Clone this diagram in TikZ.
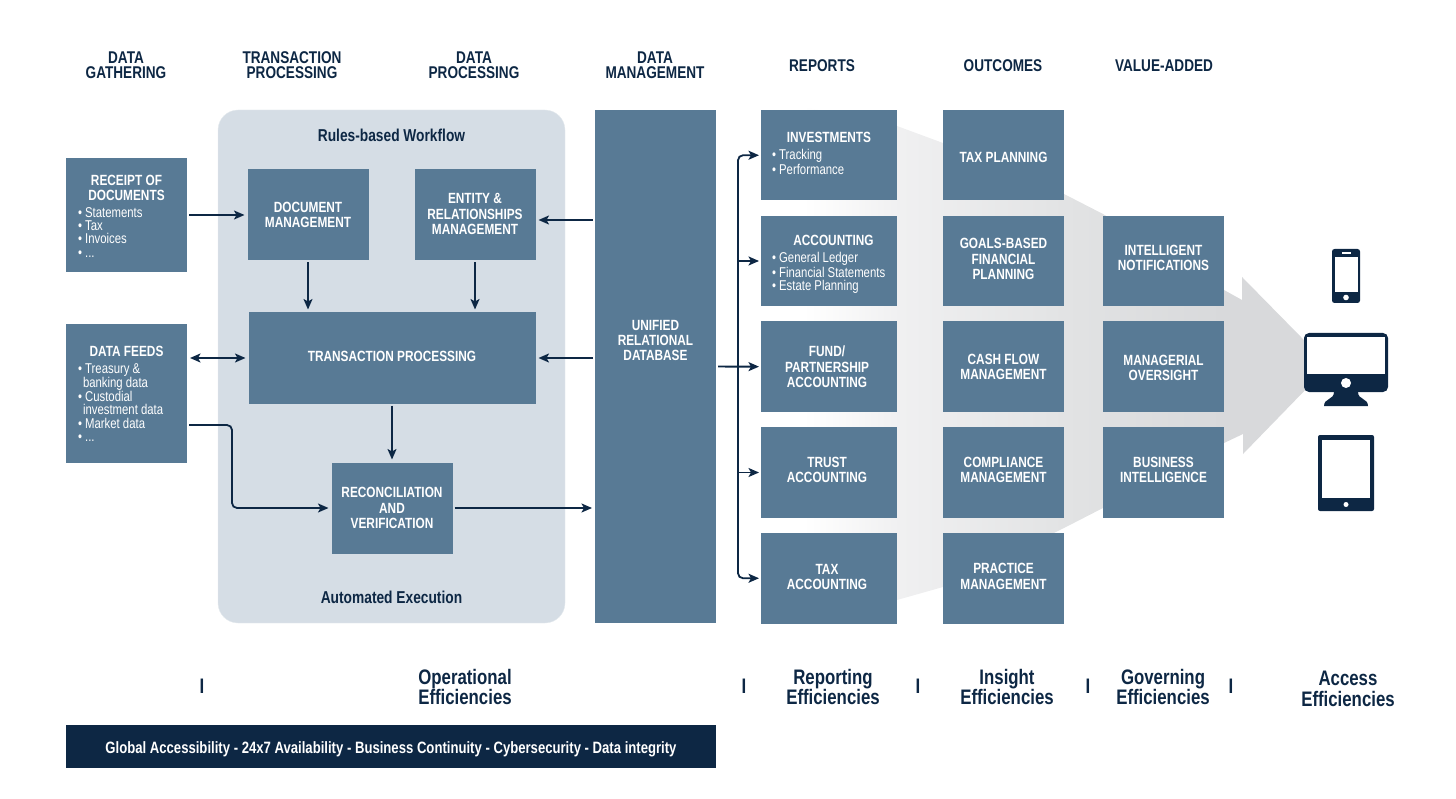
\documentclass[tikz,border=0pt]{standalone}
\usepackage{fontspec}
\setmainfont[FakeStretch=0.8]{Liberation Sans}
\usetikzlibrary{arrows.meta, positioning}
\definecolor{boxblue}{HTML}{587A95}
\definecolor{panelgray}{HTML}{D5DDE5}
\definecolor{navy}{HTML}{0D2744}
\definecolor{arrowgray}{HTML}{D8D9DB}
\definecolor{fadeone}{HTML}{F0F0F1}
\definecolor{fadetwo}{HTML}{E2E3E4}
\pgfdeclarehorizontalshading{arrowfade}{100bp}{color(0bp)=(white); color(28bp)=(white); color(36.6bp)=(fadeone); color(51.3bp)=(fadetwo); color(65.6bp)=(arrowgray); color(100bp)=(arrowgray)}
\newcommand{\itemtext}{\normalfont\fontsize{14.2}{13.1}\selectfont}
\newcommand{\liftup}[1]{\rule[-#1]{0pt}{#1}}
\begin{document}
\begin{tikzpicture}[
        x=1pt, y=-1pt,
        node distance=15.25pt,
        box/.style={rectangle, fill=boxblue, text=white, align=center, inner sep=0pt, outer sep=0pt, font=\bfseries\fontsize{14.8}{15.2}\selectfont, minimum width=121pt, minimum height=91pt},
        reportbox/.style={box, minimum width=136pt, minimum height=90.5pt},
        heading/.style={text=navy, align=center, font=\bfseries\fontsize{17}{15.2}\selectfont},
        paneltext/.style={text=navy, font=\bfseries\fontsize{17.2}{18}\selectfont},
        gain/.style={text=navy, align=center, font=\bfseries\fontsize{21}{20.5}\selectfont},
        flow/.style={-{Stealth[length=10.5pt,width=9pt,inset=2.5pt]}, line width=1.8pt, navy},
        twoflow/.style={flow, {Stealth[length=10.5pt,width=9pt,inset=2.5pt]}-{Stealth[length=10.5pt,width=9pt,inset=2.5pt]}}
    ]
        \useasboundingbox (0,0) rectangle (1456,799);
        \shade[shading=arrowfade, draw=none]
            (770,100) -- (897,126) -- (943,143) -- (1064,194) -- (1103,214) -- (1224,290) -- (1242,300) -- (1242,277) -- (1329,365.5)
            -- (1243,454) -- (1243,434) -- (1224,443) -- (1103,508) -- (1064,528) -- (943,587) -- (897,600) -- (770,630) -- cycle;
        \node[fill=panelgray, draw=panelgray!60!white, rounded corners=20pt, minimum width=347pt, minimum height=513pt, inner sep=0pt] (panel) at (391.5,366.5) {};
        \node[paneltext] (rules) at (391.5,135) {Rules-based Workflow};
        \node[paneltext] (auto) at (391.5,597) {Automated Execution};

        \node[heading] (h1) at (126,65) {DATA\\GATHERING};
        \node[heading] (h2) at (292,65) {TRANSACTION\\PROCESSING};
        \node[heading] (h3) at (474,65) {DATA\\PROCESSING};
        \node[heading] (h4) at (655,65) {DATA\\MANAGEMENT};
        \node[heading] (h5) at (822,66) {REPORTS};
        \node[heading] (h6) at (1003,66) {OUTCOMES};
        \node[heading] (h7) at (1164,66) {VALUE-ADDED};

        \node[box, minimum height=114pt] (receipt) at (126.5,215) {\rule{0pt}{12.5pt}RECEIPT OF\\DOCUMENTS\\[2pt] \parbox[t]{97pt}{\itemtext • Statements\\• Tax\\• Invoices\\• ...}};
        \node[box, minimum height=139pt] (feeds) at (126.5,393.5) {DATA FEEDS\\[2pt] \parbox[t]{97pt}{\itemtext • Treasury \&\\\hspace*{5pt}banking data\\• Custodial\\\hspace*{5pt}investment data\\• Market data\\• ...}};
        \node[box] (doc) at (308,215) {DOCUMENT\\MANAGEMENT};
        \node[box, right=46pt of doc] (entity) {ENTITY \&\\RELATIONSHIPS\\MANAGEMENT\liftup{2pt}};
        \node[box, minimum width=287pt] (trans) at (392,358) {TRANSACTION PROCESSING\liftup{4pt}};
        \node[box, below=59pt of trans] (recon) {RECONCILIATION\\AND\\VERIFICATION};
        \node[box, minimum height=513pt] (db) at (655.5,366.5) {UNIFIED\\RELATIONAL\\DATABASE\\[37pt]};

        \node[reportbox] (r1) at (829,155.25) {INVESTMENTS\\[2pt] \parbox[t]{114pt}{\itemtext • Tracking\\• Performance\liftup{4pt}}};
        \node[reportbox, below=of r1] (r2) {\rule{0pt}{17pt}\hspace*{9pt}ACCOUNTING\\[2pt] \parbox[t]{114pt}{\itemtext • General Ledger\\• Financial Statements\\• Estate Planning}};
        \node[reportbox, below=of r2] (r3) {\hspace*{-4pt}FUND/\\\hspace*{-4pt}PARTNERSHIP\\\hspace*{-4pt}ACCOUNTING};
        \node[reportbox, below=of r3] (r4) {\hspace*{-4pt}TRUST\\\hspace*{-4pt}ACCOUNTING\liftup{5pt}};
        \node[reportbox, below=of r4] (r5) {\hspace*{-4pt}TAX\\\hspace*{-4pt}ACCOUNTING\liftup{2pt}};

        \node[box, minimum height=90.5pt, right=46pt of r1] (o1) {\raisebox{-7pt}[0pt][0pt]{TAX PLANNING}};
        \node[box, minimum height=90.5pt, below=of o1] (o2) {GOALS-BASED\\FINANCIAL\\PLANNING\liftup{4pt}};
        \node[box, minimum height=90.5pt, below=of o2] (o3) {CASH FLOW\\MANAGEMENT};
        \node[box, minimum height=90.5pt, below=of o3] (o4) {COMPLIANCE\\MANAGEMENT\liftup{5pt}};
        \node[box, minimum height=90.5pt, below=of o4] (o5) {PRACTICE\\MANAGEMENT\liftup{4pt}};

        \node[box, minimum height=90.5pt, right=39pt of o2] (v1) {INTELLIGENT\\NOTIFICATIONS\liftup{6pt}};
        \node[box, minimum height=90.5pt, right=39pt of o3] (v2) {\rule{0pt}{13pt}MANAGERIAL\\OVERSIGHT};
        \node[box, minimum height=90.5pt, right=39pt of o4] (v3) {BUSINESS\\INTELLIGENCE\liftup{5pt}};

        \draw[flow, shorten <=2pt, shorten >=3pt] (receipt) -- (doc);
        \draw[flow, shorten <=2pt, shorten >=3pt] ([yshift=-5pt]db.west |- entity) -- ([yshift=-5pt]entity.east);
        \draw[twoflow, shorten <=3pt, shorten >=3pt] (feeds.east |- trans) -- (trans);
        \draw[flow, shorten <=2pt, shorten >=3pt] (db.west |- trans) -- (trans);
        \draw[flow, shorten <=2pt, shorten >=3pt] (doc) -- (doc |- trans.north);
        \draw[flow, shorten <=2pt, shorten >=3pt] (entity) -- (entity |- trans.north);
        \draw[flow, shorten <=2pt, shorten >=3pt] (trans) -- (recon);
        \coordinate (feedturn) at (232,508);
        \draw[flow, rounded corners=5pt, shorten <=2pt, shorten >=3pt] ([yshift=-31.5pt]feeds.east) -| (feedturn) -- (recon);
        \draw[flow, shorten <=2pt, shorten >=3pt] (recon) -- (db.west |- recon);
        \coordinate (bus) at (738,366.75);
        \draw[flow, shorten <=2pt, shorten >=2pt] (db) -- (r3);
        \draw[flow, rounded corners=5pt, shorten >=2pt] (bus) |- (r1);
        \draw[flow, shorten >=2pt] (bus |- r2) -- (r2);
        \draw[flow, shorten >=2pt] (bus |- r4) -- (r4);
        \draw[flow, rounded corners=5pt, shorten >=2pt] (bus) |- (r5);

        % devices
        \fill[navy, rounded corners=2.5pt] (1332,249) rectangle (1360,303);
        \fill[white] (1335,257) rectangle (1358,292);
        \fill[white] (1342,252) rectangle (1351,254);
        \fill[white] (1346,297.5) circle (2.8);
        \fill[navy] (1334,392) -- (1358,392) .. controls (1358,400) and (1368,398) .. (1368,406) -- (1324,406) .. controls (1324,398) and (1334,400) .. (1334,392) -- cycle;
        \fill[navy, rounded corners=5pt] (1304,333) rectangle (1388,392);
        \fill[white] (1307,337) rectangle (1385,374);
        \fill[white] (1346,383) circle (5);
        \fill[navy, rounded corners=2pt] (1318,435) rectangle (1374,511);
        \fill[white] (1322,440) rectangle (1370,498);
        \fill[white] (1346,504.5) circle (2.5);

        \node[gain] (s1) at (202,686) {I};
        \node[gain] (e1) at (465,687) {Operational\\Efficiencies};
        \node[gain] (s2) at (744,686) {I};
        \node[gain] (e2) at (833,687) {Reporting\\Efficiencies};
        \node[gain] (s3) at (918,686) {I};
        \node[gain] (e3) at (1007,687) {Insight\\Efficiencies};
        \node[gain] (s4) at (1088,686) {I};
        \node[gain] (e4) at (1163,687) {Governing\\Efficiencies};
        \node[gain] (s5) at (1231,686) {I};
        \node[gain] (e5) at (1348,689) {Access\\Efficiencies};

        \node[fill=navy, text=white, inner sep=0pt, minimum width=650pt, minimum height=43pt, font=\bfseries\fontsize{16.4}{15}\selectfont] (bar) at (391,746.5) {\rule{0pt}{17pt}Global Accessibility - 24x7 Availability - Business Continuity - Cybersecurity - Data integrity};
\end{tikzpicture}
\end{document}
